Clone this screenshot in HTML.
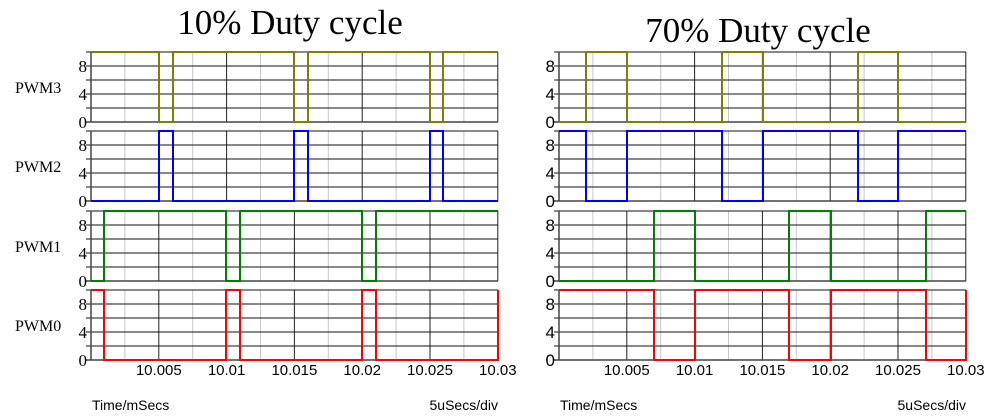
<!DOCTYPE html>
<html><head><style>body{margin:0;background:#fff}svg{display:block}</style></head>
<body>
<svg id="s" width="999" height="418" xmlns="http://www.w3.org/2000/svg"></svg>
<script>
const s=document.getElementById('s');let h='';
h+='<text x="290" y="34" font-family="Liberation Serif,serif" font-size="35" text-anchor="middle">10% Duty cycle</text>';
h+='<text x="758" y="42" font-family="Liberation Serif,serif" font-size="35" text-anchor="middle">70% Duty cycle</text>';
const step=67.8/2;
const tops=[52,131,211,290];
const names=['PWM3','PWM2','PWM1','PWM0'];
const colors=['#808000','#0000ff','#008000','#ff0000'];
function plot(x0,yFont,labels,waves){
  const x1=x0+407;
  for(let p=0;p<4;p++){
    const t=tops[p],z=t+70;
    for(let i=1;i<=12;i++){const x=x0+i*step;
      h+=`<line x1="${x}" y1="${t}" x2="${x}" y2="${z}" stroke="${i%2?'#c8c8c8':'#222'}" stroke-width="1"/>`;}
    for(let v=2;v<=10;v+=2){const y=z-v*7;
      h+=`<line x1="${x0-5}" y1="${y}" x2="${x1}" y2="${y}" stroke="#111" stroke-width="1"/>`;}
    h+=`<line x1="${x0-5}" y1="${z}" x2="${x1}" y2="${z}" stroke="#444" stroke-width="1.5"/>`;
    h+=`<line x1="${x0}" y1="${t}" x2="${x0}" y2="${z}" stroke="#444" stroke-width="1.5"/>`;
    [[0,z],[4,z-28],[8,z-56]].forEach(([v,y])=>h+=`<text x="${x0-4}" y="${y+6}" font-family="${yFont}" font-size="17" text-anchor="end">${v}</text>`);
    if(labels) h+=`<text x="15" y="${t+41}" font-family="Liberation Serif,serif" font-size="16">${names[p]}</text>`;
    const w=waves[p];let pts=[];let lv=w[0];pts.push([x0,lv]);
    for(let k=1;k<w.length;k+=1){const e=w[k];pts.push([e,lv]);lv=lv?0:1;pts.push([e,lv]);}
    pts.push([x1,lv]);
    if(w.end!==undefined){pts.push([x1,w.end]);}
    h+=`<polyline fill="none" stroke="${colors[p]}" stroke-width="2" points="${pts.map(q=>q[0]+','+(q[1]?t:z)).join(' ')}"/>`;
  }
  const xl=['10.005','10.01','10.015','10.02','10.025','10.03'];
  xl.forEach((l,i)=>h+=`<text x="${x0+(i+1)*67.8}" y="375" font-family="Liberation Sans,sans-serif" font-size="15" text-anchor="middle">${l}</text>`);
  h+=`<text x="${x0+1}" y="410" font-family="Liberation Sans,sans-serif" font-size="14">Time/mSecs</text>`;
  h+=`<text x="${x1}" y="410" font-family="Liberation Sans,sans-serif" font-size="14" text-anchor="end">5uSecs/div</text>`;
}
function W(start,edges,end){const a=[start,...edges];if(end!==undefined)a.end=end;return a;}
plot(91,'Liberation Serif,serif',true,[
  W(1,[159,173,294,308,430,443]),
  W(0,[159,173,294,308,430,443]),
  W(0,[104,226,240,362,376]),
  W(1,[104,226,240,362,376],1)
]);
plot(559,'Liberation Sans,sans-serif',false,[
  W(0,[586,627,722,763,858,898]),
  W(1,[586,627,722,763,858,898]),
  W(0,[654,695,789,831,926]),
  W(1,[654,695,789,831,926],1)
]);
s.innerHTML=h;
</script>
</body></html>
